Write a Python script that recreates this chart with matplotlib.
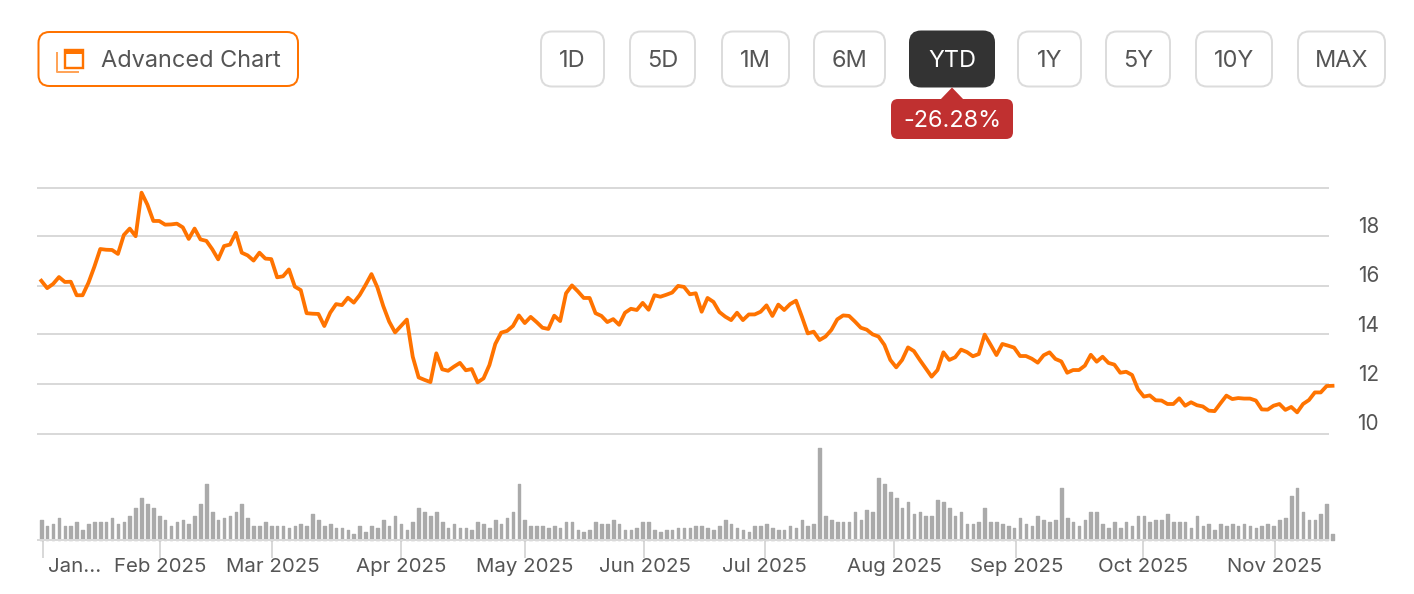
import matplotlib
matplotlib.use('Agg')
import matplotlib.pyplot as plt
from matplotlib.patches import FancyBboxPatch, Rectangle, Polygon

# --- DATA ---
price = [
    16.23, 15.93, 16.10, 16.38, 16.18, 16.19, 15.64, 15.64, 16.15, 16.80, 17.52, 17.49, 17.48, 17.32, 18.09, 18.35,
    18.04, 19.81, 19.32, 18.66, 18.66, 18.51, 18.52, 18.55, 18.40, 17.93, 18.35, 17.91, 17.85, 17.51, 17.10, 17.64,
    17.70, 18.18, 17.37, 17.26, 17.05, 17.37, 17.13, 17.11, 16.37, 16.41, 16.69, 15.99, 15.85, 14.91, 14.89, 14.88,
    14.39, 14.93, 15.28, 15.24, 15.54, 15.34, 15.65,
    16.06, 16.50, 15.96, 15.20, 14.57, 14.13, 14.39, 14.65, 13.14, 12.30, 12.20, 12.11, 13.28, 12.63, 12.57, 12.74,
    12.89, 12.59, 12.64, 12.10, 12.26, 12.80, 13.66, 14.12, 14.19, 14.39, 14.82, 14.51, 14.76, 14.55, 14.32, 14.27,
    14.81, 14.59, 15.72, 16.04, 15.80, 15.53, 15.53, 14.91, 14.80, 14.55, 14.67, 14.44, 14.93, 15.09, 15.04, 15.33,
    15.05, 15.64, 15.58, 15.66, 15.75, 16.02, 15.98, 15.68,
    15.72, 14.97, 15.53, 15.37, 14.96, 14.77, 14.63, 14.93, 14.63, 14.86, 14.86, 14.97, 15.23, 14.80, 15.26, 15.04,
    15.28, 15.42, 14.77, 14.09, 14.16, 13.82, 13.96, 14.23, 14.66, 14.82, 14.80, 14.57, 14.32, 14.24, 14.05, 13.96,
    13.62, 13.01, 12.71, 13.01, 13.52, 13.37, 13.01, 12.67, 12.33, 12.60, 13.32, 13.01, 13.12, 13.43, 13.33, 13.16,
    13.25, 14.04, 13.63, 13.21, 13.66, 13.59, 13.51, 13.17,
    13.17, 13.06, 12.90, 13.20, 13.32, 13.05, 12.95, 12.49, 12.60, 12.60, 12.78, 13.22, 12.94, 13.14, 12.89, 12.82,
    12.49, 12.53, 12.40, 11.82, 11.52, 11.57, 11.37, 11.36, 11.22, 11.22, 11.45, 11.15, 11.29, 11.17, 11.12, 10.95,
    10.93, 11.25, 11.56, 11.42, 11.46, 11.44, 11.44, 11.36, 11.00, 10.99, 11.15, 11.22, 10.98, 11.10, 10.88, 11.22,
    11.38, 11.69, 11.69, 11.95, 11.96,
]
volume = [
    60, 42, 48, 66, 42, 42, 54, 30, 48, 54, 54, 54, 66, 48, 54, 72, 96, 126, 108, 96, 72, 60, 42, 54, 60, 48, 72, 108,
    168, 84, 60, 66, 72, 84, 108, 66, 42, 42, 54, 42, 42, 42, 36, 42, 48, 42, 78, 60, 42, 48, 36, 36, 30, 18, 42, 24,
    42, 36, 60, 42, 72, 48, 30, 54, 96, 84, 72, 84, 54, 36, 48, 36, 36, 30, 54, 48, 36, 60, 48, 66, 84, 168, 60, 42,
    42, 42, 36, 42, 36, 54, 54, 30, 24, 30, 54, 48, 48, 60, 48, 30, 30, 36, 54, 54, 30, 24, 30, 30, 36, 36, 36, 42,
    42, 36, 30, 42, 60, 48, 36, 30, 24, 42, 42, 48, 36, 30, 30, 42, 36, 60, 42, 48, 276, 72, 60, 54, 54, 54, 84, 60,
    90, 84, 186, 168, 144, 126, 96, 114, 78, 84, 72, 72, 120, 114, 96, 72, 84, 48, 48, 54, 96, 54, 54, 48, 42, 36, 66, 48,
    42, 72, 60, 54, 60, 156, 66, 54, 42, 60, 84, 84, 48, 36, 54, 36, 54, 42, 72, 72, 54, 60, 60, 78, 54, 54, 54, 36,
    72, 42, 48, 30, 48, 42, 48, 42, 48, 42, 36, 42, 48, 42, 60, 66, 132, 156, 84, 60, 60, 78, 108, 18,
]
month_pos = [0.3, 20.2, 39.2, 61, 82, 102.3, 122.7, 144.7, 165.4, 186.8, 209.2]
month_labels = ['Jan...', 'Feb 2025', 'Mar 2025', 'Apr 2025', 'May 2025', 'Jun 2025', 'Jul 2025',
                'Aug 2025', 'Sep 2025', 'Oct 2025', 'Nov 2025']
grid_values = [10, 12.03, 14.07, 16.02, 18.05, 20]
price_labels = [10, 12, 14, 16, 18]
range_labels = ['1D', '5D', '1M', '6M', 'YTD', '1Y', '5Y', '10Y', 'MAX']
range_left = [541, 630, 722, 814, 910, 1018, 1106, 1196, 1298]
range_right = [604, 695, 789, 885, 994, 1081, 1170, 1272, 1385]
ytd_change = '-26.28%'

# --- STYLE ---
W, H = 1414, 594
ORANGE = '#ff7300'
GRID = '#d9d9d9'
TEXT = '#555555'
plt.rcParams['font.family'] = ['Inter', 'DejaVu Sans']
PX = 0.72  # one pixel in points at dpi 100
FS = 23.5 * PX

fig = plt.figure(figsize=(W / 100, H / 100), dpi=100, facecolor='white')


def px_axes(left, top, right, bottom):
    return fig.add_axes([left / W, 1 - bottom / H, (right - left) / W, (bottom - top) / H])


# --- PRICE ---
ax = px_axes(38, 188, 1328, 434)
x = list(range(len(price)))
x_left = (38 - 41.3) / 5.896
x_right = (1328 - 41.3) / 5.896
ax.set_xlim(x_left, x_right)
ax.set_ylim(10, 20)
ax.plot(x, price, color=ORANGE, linewidth=3.8 * PX, clip_on=False, zorder=3, solid_joinstyle='round')
ax.set_yticks(grid_values)
ax.set_yticklabels([])
ax.grid(axis='y', color=GRID, linewidth=2 * PX, clip_on=False)
ax.set_xticks([])
ax.tick_params(length=0)
for s in ax.spines.values():
    s.set_visible(False)
ax.patch.set_alpha(0)

# --- VOLUME ---
ax_vol = px_axes(38, 440, 1328, 539.5)
ax_vol.set_xlim(x_left, x_right)
ax_vol.set_ylim(0, 298.5)
# narrow bar plus a round-joined edge gives the soft corners
ax_vol.bar(x, volume, width=2.6 / 5.896, color='#aaaaaa', edgecolor='#aaaaaa', linewidth=1.4 * PX,
           joinstyle='round', clip_on=False, zorder=2)
ax_vol.set_yticks([])
ax_vol.set_xticks(month_pos)
ax_vol.set_xticklabels([])
ax_vol.tick_params(axis='x', length=18 * PX, width=2 * PX, color=GRID)
for name, s in ax_vol.spines.items():
    s.set_visible(name == 'bottom')
ax_vol.spines['bottom'].set_color(GRID)
ax_vol.spines['bottom'].set_linewidth(2 * PX)
ax_vol.spines['bottom'].set_zorder(3)
ax_vol.patch.set_alpha(0)

# --- PAGE ELEMENTS, IN PIXELS ---
ui = fig.add_axes([0, 0, 1, 1])
ui.set_xlim(0, W)
ui.set_ylim(H, 0)
ui.axis('off')
ui.patch.set_alpha(0)


def button(left, top, right, bottom, edge, face, radius=11, lw=2):
    ui.add_patch(FancyBboxPatch((left + radius, top + radius), right - left - 2 * radius, bottom - top - 2 * radius,
                                boxstyle=f'round,pad={radius},rounding_size={radius}',
                                edgecolor=edge, facecolor=face, linewidth=lw * PX))


# month labels sit under the ticks, Jan is cut and left aligned
tick_to_px = [41.3 + 5.896 * p for p in month_pos]
for i, (p, lab) in enumerate(zip(tick_to_px, month_labels)):
    if i == 0:
        ui.text(48, 567, lab, ha='left', va='center', fontsize=FS * 0.87, color=TEXT)
    else:
        ui.text(p, 567, lab, ha='center', va='center', fontsize=FS * 0.87, color=TEXT)

for v in price_labels:
    y = 434 - (v - 10) * 24.6
    ui.text(1379, y - 10, str(v), ha='right', va='center', fontsize=FS * 0.88, color=TEXT)

# advanced chart button
button(38.5, 32, 298, 86, ORANGE, 'white')
ui.text(101, 61, 'Advanced Chart', ha='left', va='center', fontsize=FS, color=TEXT)
ui.plot([57, 57, 78], [53, 72, 72], color=ORANGE, linewidth=2 * PX, alpha=0.65)
ui.add_patch(Rectangle((64.5, 49.5), 18, 18, edgecolor=ORANGE, facecolor='white', linewidth=2.4 * PX))
ui.add_patch(Rectangle((64, 48.5), 19, 5, edgecolor='none', facecolor=ORANGE))

# range buttons
for lab, left, right in zip(range_labels, range_left, range_right):
    active = lab == 'YTD'
    button(left, 31.5, right, 86.5, '#333333' if active else '#dcdcdc', '#333333' if active else 'white')
    ui.text((left + right) / 2, 61, lab, ha='center', va='center', fontsize=FS,
            color='white' if active else TEXT)

# change badge
button(891, 99, 1013, 139, '#c03030', '#c03030', radius=7, lw=0)
ui.add_patch(Polygon([(940, 100), (952, 87.5), (964, 100)], closed=True, facecolor='#c03030', edgecolor='none'))
ui.text(952, 121, ytd_change, ha='center', va='center', fontsize=FS, color='white')

fig.savefig('out.png', dpi=100, facecolor='white')
